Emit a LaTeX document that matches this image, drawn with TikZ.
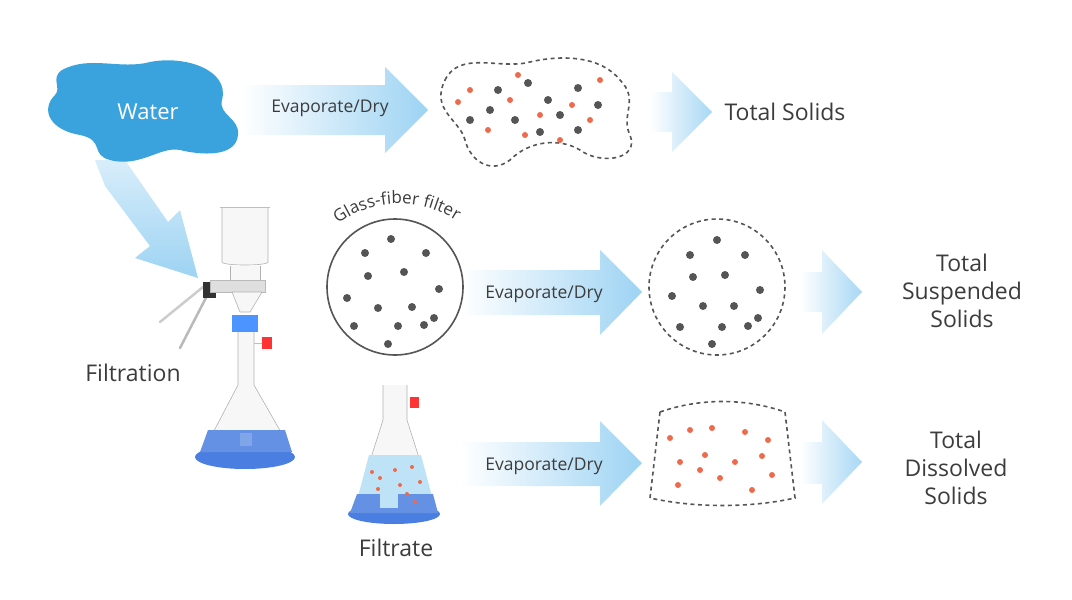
\documentclass[tikz,border=0pt]{standalone}
\usepackage{fontspec}
\setmainfont{Open Sans}
\usetikzlibrary{decorations.text}
\definecolor{wblue}{HTML}{3AA3DE}
\definecolor{abl}{HTML}{9DD3F3}
\definecolor{txt}{HTML}{3C3C3C}
\definecolor{dotg}{HTML}{555555}
\definecolor{dotr}{HTML}{EE6A4C}
\definecolor{fblue}{HTML}{4A7EE0}
\definecolor{liq}{HTML}{BFE3F6}
\tikzset{
 bigarrow/.style={left color=white, right color=abl, draw=none},
 smallarrow/.style={left color=white, right color=abl!90, draw=none},
 lbl/.style={text=txt, font=\fontsize{17.5}{20}\selectfont},
 big/.style={text=txt, font=\fontsize{23}{28}\selectfont, align=center},
 dashb/.style={draw=dotg, line width=1.6pt, dash pattern=on 4pt off 3.5pt},
 gd/.style={fill=dotg, draw=none, circle, minimum size=8pt, inner sep=0pt},
 rd/.style={fill=dotr, draw=none, circle, minimum size=6pt, inner sep=0pt},
 glass/.style={draw=gray!60, fill=gray!6, line width=0.6pt},
}
\begin{document}
\begin{tikzpicture}[x=1pt,y=-1pt]
\useasboundingbox (0,0) rectangle (1072,600);
% arrows
\shade[bigarrow] (240,85) -- (385,85) -- (385,67) -- (428,110) -- (385,153) -- (385,135) -- (240,135) -- cycle;
\shade[bigarrow] (460,270) -- (600,270) -- (600,250) -- (642,292) -- (600,335) -- (600,315) -- (460,315) -- cycle;
\shade[bigarrow] (460,442) -- (600,442) -- (600,421) -- (642,463) -- (600,506) -- (600,486) -- (460,486) -- cycle;
\shade[smallarrow] (650,92) -- (672,92) -- (672,72) -- (712,112) -- (672,152) -- (672,132) -- (650,132) -- cycle;
\shade[smallarrow] (800,272) -- (822,272) -- (822,250) -- (862,292) -- (822,334) -- (822,312) -- (800,312) -- cycle;
\shade[smallarrow] (800,442) -- (822,442) -- (822,420) -- (862,462) -- (822,504) -- (822,484) -- (800,484) -- cycle;
% diagonal arrow
\shade[left color=abl!40, right color=abl, shading angle=0] (95,160) -- (125,160) -- (168,222) -- (180,210) -- (198,278) -- (135,258) -- (150,246) -- (105,186) -- cycle;
% water
\fill[wblue] (62,70) .. controls (90,55) and (120,70) .. (150,62) .. controls (185,55) and (230,70) .. (222,100)
 .. controls (218,115) and (240,118) .. (238,135) .. controls (236,158) and (200,155) .. (180,150)
 .. controls (160,146) and (140,168) .. (110,160) .. controls (90,155) and (105,140) .. (80,135)
 .. controls (50,130) and (40,110) .. (55,95) .. controls (62,88) and (50,78) .. (62,70) -- cycle;
\node[text=white, font=\fontsize{22}{26}\selectfont] (water) at (148,112) {Water};
\node[lbl] (e1) at (330,108) {Evaporate/Dry};
\node[lbl] (e2) at (544,294) {Evaporate/Dry};
\node[lbl] (e3) at (544,466) {Evaporate/Dry};
% total solids blob
\draw[dashb] (445,80) .. controls (460,50) and (500,70) .. (530,62) .. controls (560,55) and (600,55) .. (620,80)
 .. controls (640,100) and (620,115) .. (630,135) .. controls (640,160) and (600,165) .. (580,150)
 .. controls (560,138) and (530,140) .. (510,160) .. controls (490,175) and (470,160) .. (465,140)
 .. controls (460,120) and (430,110) .. (445,80) -- cycle;
\foreach \p in {(498,90),(528,83),(548,100),(490,110),(515,120),(560,115),(578,88),(598,105),(540,132),(470,120),(578,130)} \node[gd] at \p {};
\foreach \p in {(458,102),(518,75),(510,100),(540,115),(572,105),(590,120),(488,130),(525,135),(560,140),(600,80),(470,90)} \node[rd] at \p {};
\node[big] (ts) at (785,112) {Total Solids};
% glass fiber filter
\draw[dotg, line width=1.6pt] (395,287) circle (68);
\path[decorate, decoration={text along path, text={|\fontsize{17}{19}\selectfont\color{txt}|Glass-fiber filter}, text align=center}]
 (328,232) .. controls (368,195) and (425,195) .. (467,228);
\foreach \p in {(391,239),(365,253),(426,253),(368,276),(404,272),(439,289),(347,298),(378,308),(412,307),(354,326),(398,326),(424,325),(434,318),(388,344)} \node[gd] at \p {};
% dashed circle
\draw[dashb] (717,287) circle (68);
\foreach \p in {(717,240),(690,255),(745,255),(693,277),(725,275),(760,290),(672,296),(703,306),(734,306),(680,327),(722,327),(748,326),(758,318),(712,344)} \node[gd] at \p {};
\node[big] (tss) at (962,291) {Total\\Suspended\\Solids};
% dissolved shape
\draw[dashb] (660,412) .. controls (700,398) and (745,398) .. (785,412) -- (795,498) .. controls (750,508) and (695,508) .. (650,498) -- cycle;
\foreach \p in {(670,438),(690,430),(712,428),(745,432),(768,440),(680,462),(705,455),(735,462),(762,456),(678,485),(720,478),(752,490),(772,475),(700,470)} \node[rd] at \p {};
\node[big] (tds) at (956,468) {Total\\Dissolved\\Solids};
% filtration apparatus
\draw[glass] (222,207) -- (222,262) .. controls (222,266) and (268,266) .. (268,262) -- (268,207);
\draw[gray!50] (220,207) -- (270,207);
\draw[glass] (230,266) -- (230,282) -- (260,282) -- (260,266);
\draw[gray!40, line width=2.5pt, line cap=round] (203,287) -- (160,322);
\draw[gray!55, line width=2.5pt, line cap=round] (210,290) -- (180,348);
\fill[black!80] (203,282) rectangle (216,298);
\fill[gray!25, draw=gray!55] (210,280) rectangle (265,292);
\draw[glass] (232,292) -- (262,292) -- (250,312) -- (240,312) -- cycle;
\fill[blue!60!cyan!70] (232,315) rectangle (258,332);
\draw[glass] (238,332) -- (238,385) -- (205,448) -- (290,448) -- (254,385) -- (254,332);
\fill[red!80] (262,337) rectangle (272,349);
\draw[gray!50] (254,343) -- (262,343);
\fill[fblue] (245,457) ellipse (50 and 12);
\fill[fblue!85] (208,430) -- (285,430) -- (292,452) -- (200,452) -- cycle;
\fill[fblue!70!white] (240,433) rectangle (252,446);
\node[big] (filt) at (133,373) {Filtration};
% filtrate
\draw[glass] (383,385) -- (383,420) -- (355,508) -- (435,508) -- (407,420) -- (407,385);
\fill[liq] (369,455) -- (421,455) -- (435,508) -- (355,508) -- cycle;
\fill[fblue] (394,514) ellipse (46 and 10);
\fill[fblue!85] (357,494) -- (433,494) -- (438,513) -- (350,513) -- cycle;
\fill[liq] (380,494) rectangle (398,508);
\fill[red!80] (410,397) rectangle (419,408);
\foreach \p in {(372,472),(380,478),(395,470),(412,467),(378,489),(400,485),(407,494),(420,482),(415,502)} \node[rd, minimum size=4pt] at \p {};
\node[big] (filtr) at (396,548) {Filtrate};
\end{tikzpicture}
\end{document}
